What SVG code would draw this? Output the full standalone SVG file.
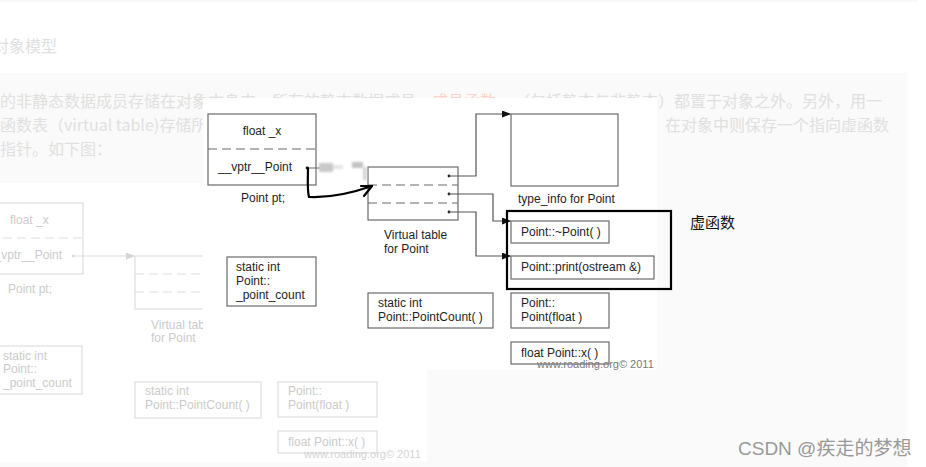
<svg xmlns="http://www.w3.org/2000/svg" width="926" height="467" viewBox="0 0 926 467">
<defs>
<style>
.bgt{font-family:"Noto Sans CJK SC","Liberation Sans",sans-serif;font-size:16px;fill:#e0e0e0}
.f{font-family:"Liberation Sans",Arial,sans-serif;font-size:12px;fill:#cbcbcb}
.fb{fill:none;stroke:#dedede;stroke-width:1.2}
.fd{stroke:#dedede;stroke-width:1.2;stroke-dasharray:9 5}
.t{font-family:"Liberation Sans",Arial,sans-serif;font-size:12px;fill:#1e1e1e}
.b{fill:#fff;stroke:#6a6a6a;stroke-width:1.2}
.d{stroke:#6a6a6a;stroke-width:1.2;stroke-dasharray:9 5}
.c{fill:none;stroke:#555;stroke-width:1.2}
.wm{font-family:"Liberation Sans",Arial,sans-serif;font-size:11px}
</style>
<marker id="ah" markerWidth="9" markerHeight="7" refX="8" refY="3.5" orient="auto" markerUnits="userSpaceOnUse"><path d="M0,0 L9,3.5 L0,7 z" fill="#111"/></marker>
<marker id="fah" markerWidth="9" markerHeight="7" refX="8" refY="3.5" orient="auto" markerUnits="userSpaceOnUse"><path d="M0,0 L9,3.5 L0,7 z" fill="#d6d6d6"/></marker>
<filter id="blur" x="-20%" y="-50%" width="140%" height="200%"><feGaussianBlur stdDeviation="1.2"/></filter>
</defs>

<!-- page background -->
<rect x="0" y="0" width="926" height="467" fill="#ffffff"/>
<line x1="0" y1="1" x2="918" y2="1" stroke="#f0f0f0" stroke-width="1"/>
<text class="bgt" x="-7" y="52">对象模型</text>
<rect x="0" y="73" width="907" height="394" fill="#fafafa"/>
<text class="bgt" x="0" y="107">的非静态数据成员存储在对象本身中，所有的静态数据成员、<tspan fill="#f9d3c7">成员函数</tspan></text>
<text class="bgt" x="882" y="107" text-anchor="end">（包括静态与非静态）都置于对象之外。另外，用一</text>
<text class="bgt" x="0" y="131">函数表（virtual table)存储所</text>
<text class="bgt" x="665" y="131">在对象中则保存一个指向虚函数</text>
<text class="bgt" x="0" y="155">指针。如下图：</text>

<!-- faded background copy of the diagram -->
<g id="faded">
<rect x="0" y="183" width="427" height="279" fill="#ffffff"/>
<g id="f-pt">
<rect class="fb" x="-25" y="203" width="108" height="71"/>
<line class="fd" x1="-25" y1="238" x2="83" y2="238"/>
<text class="f" x="10" y="224">float _x</text>
<text class="f" x="62" y="259" text-anchor="end">__vptr__Point</text>
<circle cx="73" cy="256" r="1.3" fill="#d6d6d6"/>
<text class="f" x="8" y="293">Point pt;</text>
</g>
<g id="f-vtbl">
<rect class="fb" x="135" y="256" width="90" height="53"/>
<line class="fd" x1="135" y1="274" x2="225" y2="274"/>
<line class="fd" x1="135" y1="292" x2="225" y2="292"/>
<text class="f" x="151" y="329">Virtual table</text>
<text class="f" x="151" y="342">for Point</text>
</g>
<g id="f-conn"><line x1="73" y1="256" x2="134" y2="256" stroke="#dedede" stroke-width="1.2" marker-end="url(#fah)"/></g>
<g id="f-count">
<rect class="fb" x="-6" y="346" width="88" height="48"/>
<text class="f" x="3" y="360">static int</text>
<text class="f" x="3" y="373">Point::</text>
<text class="f" x="3" y="387">_point_count</text>
</g>
<g id="f-pcount">
<rect class="fb" x="135" y="382" width="126" height="36"/>
<text class="f" x="145" y="395">static int</text>
<text class="f" x="145" y="409">Point::PointCount( )</text>
</g>
<g id="f-ctor">
<rect class="fb" x="278" y="382" width="99" height="35"/>
<text class="f" x="288" y="395">Point::</text>
<text class="f" x="288" y="409">Point(float )</text>
</g>
<g id="f-x">
<rect class="fb" x="278" y="431" width="99" height="22"/>
<text class="f" x="288" y="446">float Point::x( )</text>
</g>
<text class="wm" x="304" y="458" fill="#d4d4d4">www.roading.org© 2011</text>
</g>

<!-- pasted diagram -->
<rect x="203" y="98" width="454" height="272" fill="#ffffff"/>

<g id="pt">
<rect class="b" x="208" y="114" width="108" height="71"/>
<line class="d" x1="208" y1="149" x2="316" y2="149"/>
<text class="t" x="262" y="135" text-anchor="middle">float _x</text>
<text class="t" x="218" y="171">__vptr__Point</text>
<circle cx="307" cy="168" r="1.4" fill="#222"/>
<text class="t" x="241" y="202">Point pt;</text>
</g>

<g id="vtbl">
<rect class="b" x="368" y="167" width="90" height="53"/>
<line class="d" x1="368" y1="185" x2="458" y2="185"/>
<line class="d" x1="368" y1="203" x2="458" y2="203"/>
<circle cx="449" cy="176" r="1.4" fill="#222"/>
<circle cx="449" cy="194" r="1.4" fill="#222"/>
<circle cx="449" cy="212" r="1.4" fill="#222"/>
<text class="t" x="384" y="239">Virtual table</text>
<text class="t" x="384" y="253">for Point</text>
</g>

<g id="typeinfo">
<rect class="b" x="511" y="114" width="107" height="72"/>
<text class="t" x="518" y="203">type_info for Point</text>
</g>

<g id="dtor">
<rect class="b" x="511" y="221" width="98" height="22"/>
<text class="t" x="521" y="236">Point::~Point( )</text>
</g>

<g id="print">
<rect class="b" x="511" y="256" width="143" height="23"/>
<text class="t" x="521" y="271">Point::print(ostream &amp;)</text>
</g>

<g id="count">
<rect class="b" x="227" y="257" width="89" height="49"/>
<text class="t" x="236" y="271">static int</text>
<text class="t" x="236" y="285">Point::</text>
<text class="t" x="236" y="299">_point_count</text>
</g>

<g id="pcount">
<rect class="b" x="368" y="293" width="125" height="35"/>
<text class="t" x="378" y="307">static int</text>
<text class="t" x="378" y="321">Point::PointCount( )</text>
</g>

<g id="ctor">
<rect class="b" x="511" y="293" width="98" height="35"/>
<text class="t" x="521" y="307">Point::</text>
<text class="t" x="521" y="321">Point(float )</text>
</g>

<g id="getx">
<rect class="b" x="511" y="342" width="98" height="22"/>
<text class="t" x="521" y="357">float Point::x( )</text>
</g>

<text class="wm" x="537" y="368" fill="#7a7a7a">www.roading.org© 2011</text>

<g id="connectors">
<path class="c" d="M449,176 H476 V114 H510" marker-end="url(#ah)"/>
<path class="c" d="M449,194 H493 V221 H510" marker-end="url(#ah)"/>
<path class="c" d="M449,212 H476 V256 H510" marker-end="url(#ah)"/>
<line x1="307" y1="168" x2="320" y2="168" stroke="#666" stroke-width="1"/>
<g filter="url(#blur)" opacity="0.9">
<rect x="319" y="163" width="14" height="9" fill="#c4c4c4"/>
<rect x="333" y="165" width="10" height="4" fill="#e2e2e2"/>
<rect x="352" y="162" width="11" height="6" fill="#bdbdbd"/>
<rect x="363" y="167" width="4" height="13" fill="#d2d2d2"/>
</g>
<path d="M308,168 C308,178 307,190 309,197 C330,198 352,193 372,186" fill="none" stroke="#000" stroke-width="2.2" stroke-linecap="round"/>
<path d="M361,186 L372,186 L364,196" fill="none" stroke="#000" stroke-width="2.2" stroke-linecap="round" stroke-linejoin="round"/>
</g>

<g id="highlight">
<rect x="507" y="211" width="164" height="78" fill="none" stroke="#000" stroke-width="2.2"/>
<text x="690" y="228" font-family="Noto Sans CJK SC, sans-serif" font-size="15" fill="#111">虚函数</text>
</g>

<text x="738" y="455" font-family="Liberation Sans, Noto Sans CJK SC, sans-serif" font-size="19" fill="#999">CSDN @疾走的梦想</text>
</svg>
